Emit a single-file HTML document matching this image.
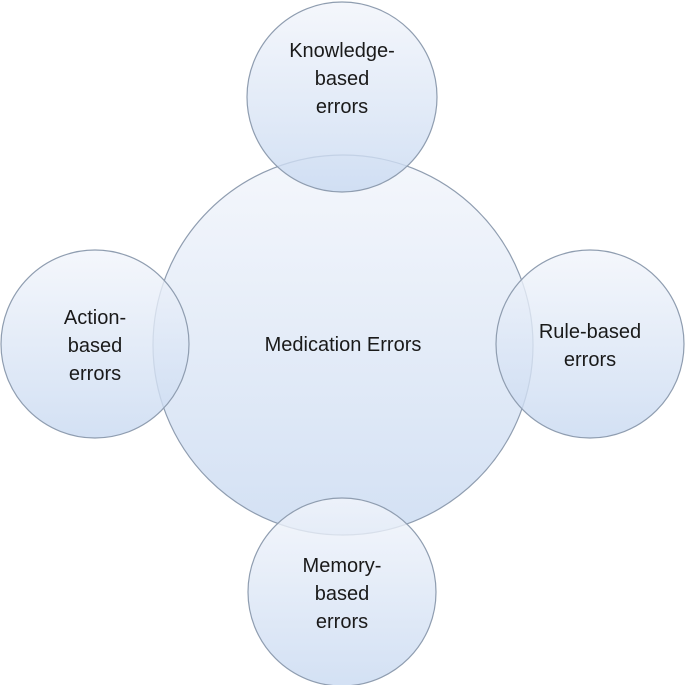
<!DOCTYPE html>
<html><head><meta charset="utf-8"><style>
html,body{margin:0;padding:0;background:#fff;width:685px;height:685px;overflow:hidden}
text{font-family:"Liberation Sans",sans-serif;font-size:20px;fill:#1a1a1a;text-anchor:middle}
</style></head><body>
<svg width="685" height="685" viewBox="0 0 685 685" xmlns="http://www.w3.org/2000/svg">
<defs>
<linearGradient id="g" x1="0" y1="0" x2="0" y2="1">
<stop offset="0" stop-color="#f2f5fb"/>
<stop offset="1" stop-color="#c8d9f1"/>
</linearGradient>
</defs>
<g stroke="#8f9db0" stroke-width="1.2" fill="url(#g)" fill-opacity="0.8">
<circle cx="343" cy="345" r="190"/>
<circle cx="342" cy="97" r="95"/>
<circle cx="95" cy="344" r="94"/>
<circle cx="590" cy="344" r="94"/>
<circle cx="342" cy="592" r="94"/>
</g>
<text x="343" y="351">Medication Errors</text>
<text x="342" y="57">Knowledge-</text>
<text x="342" y="85">based</text>
<text x="342" y="113">errors</text>
<text x="95" y="324">Action-</text>
<text x="95" y="352">based</text>
<text x="95" y="380">errors</text>
<text x="590" y="338">Rule-based</text>
<text x="590" y="366">errors</text>
<text x="342" y="572">Memory-</text>
<text x="342" y="600">based</text>
<text x="342" y="628">errors</text>
</svg>
</body></html>
